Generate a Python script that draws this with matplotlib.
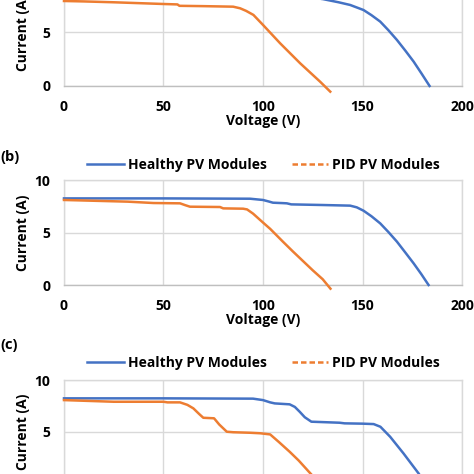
import matplotlib
matplotlib.use("Agg")
import matplotlib.pyplot as plt
from matplotlib.lines import Line2D

plt.rcParams['font.family'] = ['Open Sans', 'DejaVu Sans']
plt.rcParams['font.weight'] = 'bold'

BLUE = '#4472C4'
ORANGE = '#ED7D31'
GRID = '#D9D9D9'

# (a)
a_healthy_v = [0, 50, 100, 120, 125, 130, 134, 138, 143.8, 150.5, 154.5, 158.9, 163, 167.3, 171.5, 175.7, 179.7, 183.7]
a_healthy_i = [8.25, 8.25, 8.25, 8.24, 8.2, 8.1, 7.95, 7.8, 7.55, 7.08, 6.6, 6.0, 5.2, 4.29, 3.3, 2.27, 1.15, 0.0]
a_pid_v = [0, 10, 25, 50, 57, 58, 70, 85, 88.5, 91.5, 95.2, 100, 108.6, 118.7, 128.7, 133.8]
a_pid_i = [7.92, 7.88, 7.8, 7.64, 7.6, 7.47, 7.44, 7.39, 7.24, 7.0, 6.62, 5.69, 3.98, 2.11, 0.4, -0.53]

# (b)
b_healthy_v = [0, 50, 93.5, 100, 103, 105, 110, 112, 114.2, 130, 143.8, 147.1, 150.5, 154.5, 158.9, 163, 167.3, 171.5, 175.7, 179.5, 183.2]
b_healthy_i = [8.25, 8.25, 8.22, 8.1, 7.95, 7.84, 7.8, 7.78, 7.68, 7.62, 7.56, 7.4, 7.08, 6.55, 5.87, 5.05, 4.13, 3.1, 2.06, 1.05, 0.0]
b_pid_v = [0, 10, 32, 45, 58.3, 61, 63.3, 78.4, 80, 90, 92, 95, 100, 103.6, 110, 115, 120, 125, 130, 133.9]
b_pid_i = [8.1, 8.05, 7.94, 7.81, 7.78, 7.6, 7.46, 7.43, 7.3, 7.27, 7.2, 6.8, 5.95, 5.35, 4.13, 3.2, 2.3, 1.4, 0.55, -0.35]

# (c)
c_healthy_v = [0, 50, 95, 100, 103.6, 105.9, 113.4, 116, 118.4, 121, 124.3, 130, 138.5, 141, 150, 155.6, 159, 163.9, 170.6, 178.2, 181.5]
c_healthy_i = [8.23, 8.23, 8.2, 8.06, 7.84, 7.74, 7.65, 7.4, 6.94, 6.4, 5.97, 5.93, 5.87, 5.81, 5.78, 5.74, 5.48, 4.51, 2.9, 0.96, 0.0]
c_pid_v = [0, 25, 50, 52, 58.3, 62, 65, 68, 70, 75.4, 78, 81.8, 85, 93.5, 98.6, 103.6, 108, 113.4, 118, 123.5, 128.5]
c_pid_i = [8.06, 7.9, 7.9, 7.84, 7.84, 7.6, 7.26, 6.7, 6.35, 6.3, 5.7, 5.0, 4.95, 4.9, 4.85, 4.74, 4.0, 3.06, 2.2, 1.03, 0.0]

x_ticks = [0, 50, 100, 150, 200]
y_ticks = [0, 5, 10]

fig = plt.figure(figsize=(4.74, 4.74), dpi=100)

# axes rectangles placed so the figure shows the same crop as the source image
rects = [
    [0.135, 0.8186, 0.8397, 0.2264],
    [0.135, 0.3987, 0.8397, 0.2215],
    [0.135, -0.0198, 0.8397, 0.2180],
]
panels = [
    (a_healthy_v, a_healthy_i, a_pid_v, a_pid_i),
    (b_healthy_v, b_healthy_i, b_pid_v, b_pid_i),
    (c_healthy_v, c_healthy_i, c_pid_v, c_pid_i),
]

FS = 10

for k, (rect, (hv, hi, pv, pi)) in enumerate(zip(rects, panels)):
    ax = fig.add_axes(rect)
    ax.plot(hv, hi, color=BLUE, lw=1.8, clip_on=False, zorder=3)
    ax.plot(pv, pi, color=ORANGE, lw=1.8, clip_on=False, zorder=3)
    ax.set_xlim(0, 200)
    ax.set_ylim(0, 10)
    ax.set_xticks(x_ticks)
    ax.set_yticks(y_ticks)
    ax.grid(True, color=GRID, lw=1.0)
    ax.set_axisbelow(True)
    for s in ax.spines.values():
        s.set_color(GRID)
        s.set_linewidth(1.0)
    ax.spines['bottom'].set_color('#BFBFBF')
    ax.tick_params(length=0, labelsize=FS, pad=10)
    ax.set_ylabel('Current (A)', fontsize=FS, fontweight='bold', labelpad=3)
    if k < 2:
        ax.set_xlabel('Voltage (V)', fontsize=FS, fontweight='bold', labelpad=0)
    if k > 0:
        handles = [Line2D([], [], color=BLUE, lw=1.8),
                   Line2D([], [], color=ORANGE, lw=1.8, ls=(0, (2.2, 1.2)))]
        y_leg = 0.652 if k == 1 else 0.234
        ax.legend(handles, ['Healthy PV Modules', 'PID PV Modules'], loc='center',
                  bbox_to_anchor=(0.556, y_leg), bbox_transform=fig.transFigure,
                  ncol=2, frameon=False, fontsize=FS, handlelength=2.6,
                  handletextpad=0.3, columnspacing=1.8)

fig.text(0.0, 0.669, '(b)', fontsize=FS + 0.5, fontweight='bold', va='center')
fig.text(0.0, 0.272, '(c)', fontsize=FS + 0.5, fontweight='bold', va='center')

fig.savefig('out.png', dpi=100)
